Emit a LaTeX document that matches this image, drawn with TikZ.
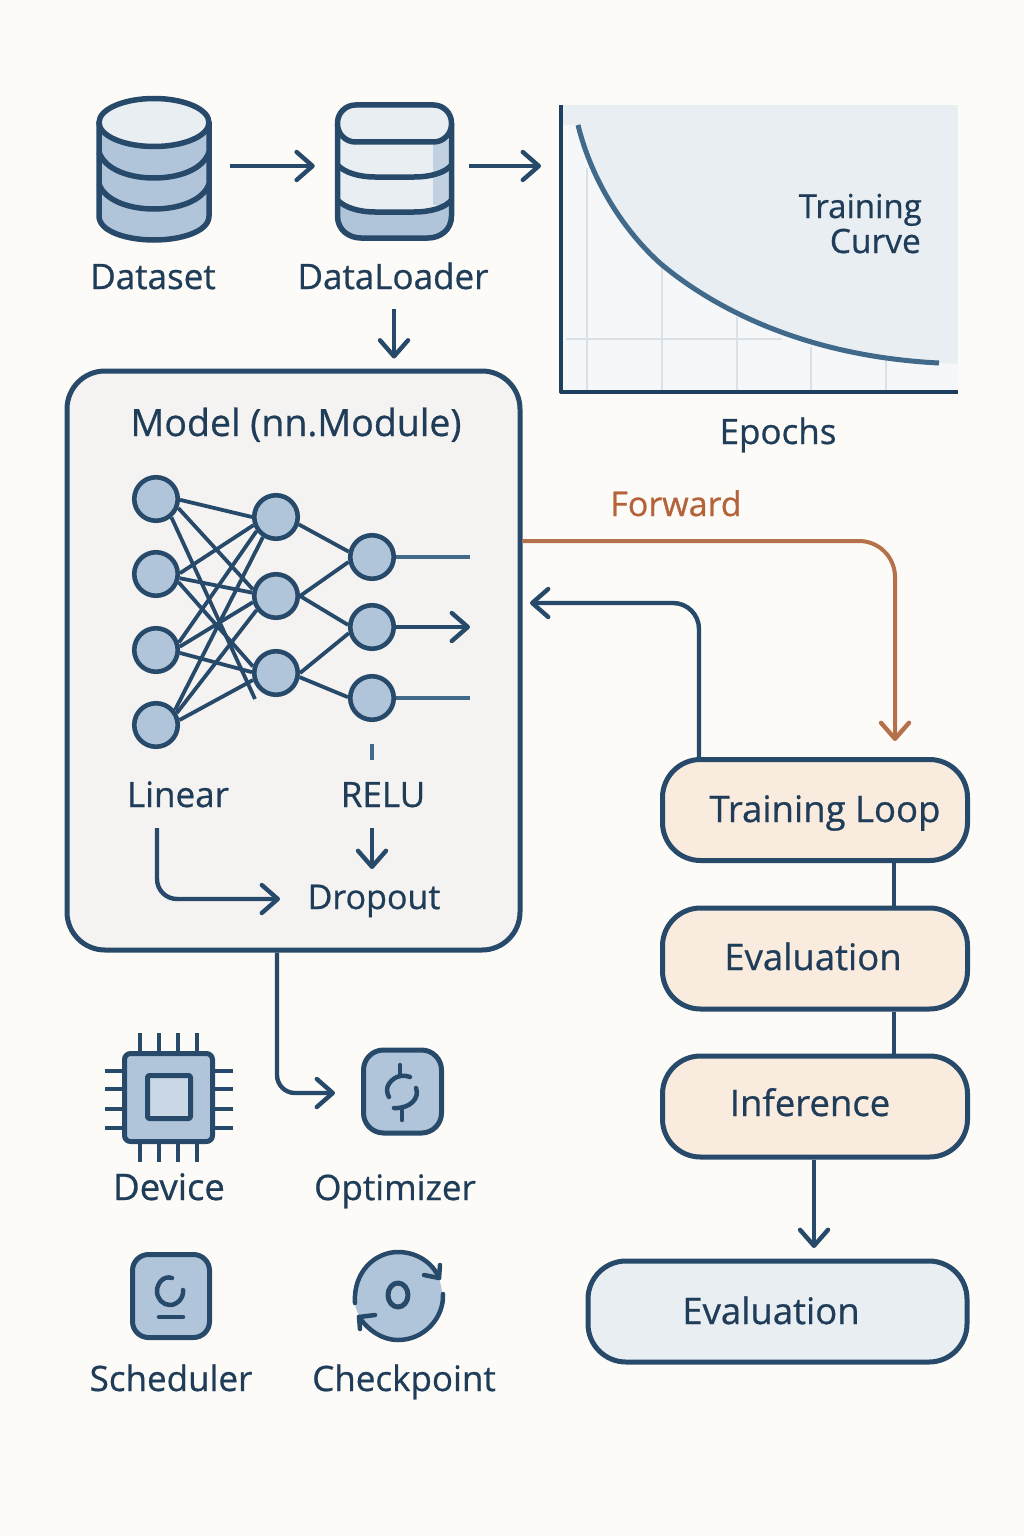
\documentclass[tikz,border=0pt]{standalone}
\usepackage{fontspec}
\setmainfont[FakeBold=0.7]{Open Sans}
\usetikzlibrary{arrows.meta}
\definecolor{bgc}{HTML}{FDFBF8}
\definecolor{navy}{HTML}{27496A}
\definecolor{axisc}{HTML}{1F3F5E}
\definecolor{inkc}{HTML}{1F3D58}
\definecolor{midblue}{HTML}{B1C5DA}
\definecolor{palec}{HTML}{E8EEF2}
\definecolor{curvec}{HTML}{41698A}
\definecolor{gridc}{HTML}{D9E2E9}
\definecolor{peach}{HTML}{FAEBDF}
\definecolor{rust}{HTML}{B5714A}
\definecolor{rusttext}{HTML}{B4623A}
\newcommand{\txtsize}[1]{\fontsize{#1}{#1}\selectfont}

\begin{document}
\begin{tikzpicture}[x=1pt,y=-1pt,
        line join=round,
        barb/.style={-{Straight Barb[length=16pt,width=28pt,line width=4.4pt,round]}},
        arr/.style={draw=navy,line width=4.4pt,barb},
        lnk/.style={draw=navy,line width=4.6pt},
        lbl/.style={text=inkc,inner sep=0pt,anchor=base,font=\txtsize{35}},
        bigl/.style={text=inkc,inner sep=0pt,anchor=base,font=\txtsize{36.5}},
        iconbox/.style={draw=navy,line width=5pt,fill=midblue,rounded corners=#1,inner sep=0pt},
        ghost/.style={inner sep=0pt,minimum width=#1,minimum height=110pt},
        stagebox/.style={draw=navy,line width=5pt,fill=peach,rounded corners=38pt,minimum width=305pt,minimum height=101pt,inner sep=0pt},
        neuron/.style={circle,draw=navy,line width=4.6pt,fill=midblue,minimum size=43.5pt,inner sep=0pt},
        edge/.style={draw=navy,line width=3.8pt},
        icl/.style={draw=navy,line width=4.5pt,line cap=round},
        shell/.style={navy,line width=5.5pt}]

    \fill[bgc] (0,0) rectangle (1024,1536);
    \useasboundingbox (0,0) rectangle (1024,1536);

    % dataset
    \fill[midblue] (99,122) -- (99,216) .. controls (99,232) and (128,240) .. (154,240) .. controls (180,240) and (209,232) .. (209,216) -- (209,122) -- cycle;
    \draw[shell] (99,122) -- (99,216) .. controls (99,232) and (128,240) .. (154,240) .. controls (180,240) and (209,232) .. (209,216) -- (209,122);
    \draw[shell] (99,152) .. controls (105,170) and (130,178) .. (154,178) .. controls (178,178) and (203,170) .. (209,152);
    \draw[shell] (99,184) .. controls (105,201) and (130,209) .. (154,209) .. controls (178,209) and (203,201) .. (209,184);
    \draw[shell,fill=palec] (154,122.5) ellipse [x radius=55pt,y radius=24pt];
    \node[ghost=114pt] (dataset) at (154,166) {};
    \node[lbl] (datasetlabel) at (153,289) {Dataset};

    % dataloader
    \fill[palec] (337.5,125) rectangle (451.5,212);
    \fill[midblue!70!palec] (433,140) rectangle (451.5,205);
    \fill[midblue] (337.5,200) .. controls (345,208) and (360,212) .. (375,212) -- (414,212) .. controls (430,212) and (445,208) .. (451.5,200) -- (451.5,218) .. controls (451.5,230) and (440,238) .. (428,238) -- (361,238) .. controls (349,238) and (337.5,230) .. (337.5,218) -- cycle;
    \draw[shell] (337.5,124) -- (337.5,216) .. controls (337.5,230) and (349,238) .. (361,238) -- (428,238) .. controls (440,238) and (451.5,230) .. (451.5,216) -- (451.5,124);
    \draw[shell] (337.5,165) .. controls (345,173) and (360,177) .. (375,177) -- (414,177) .. controls (430,177) and (445,173) .. (451.5,165);
    \draw[shell] (337.5,200) .. controls (345,208) and (360,212) .. (375,212) -- (414,212) .. controls (430,212) and (445,208) .. (451.5,200);
    \draw[shell,fill=palec,rounded corners=18pt] (337.5,105) rectangle (451.5,142);
    \node[ghost=119pt] (dataloader) at (394.5,166) {};
    \node[lbl] (dataloaderlabel) at (393,289) {DataLoader};

    \coordinate (chartin) at (541,166);
    \draw[arr,shorten <=19pt,shorten >=20pt] (dataset) -- (dataloader);
    \draw[arr,shorten <=15pt] (dataloader) -- (chartin);

    % training curve
    \fill[palec] (562,105) rectangle (958,392);
    \fill[white!55!palec] (578,125) .. controls (592,182) and (625,232) .. (661,264) .. controls (710,305) and (800,356) .. (939,363) -- (958,364) -- (958,392) -- (562,392) -- (562,125) -- cycle;
    \foreach \gx/\gy in {587/168,662/265,737/317,811/347,886/360}
        \draw[gridc,line width=2.4pt] (\gx,\gy) -- (\gx,390);
    \draw[gridc,line width=2.4pt] (566,339) -- (782,339);
    \draw[curvec,line width=5pt] (578,125) .. controls (592,182) and (625,232) .. (661,264) .. controls (710,305) and (800,356) .. (939,363);
    \draw[axisc,line width=4pt] (561,105) -- (561,392) -- (958,392);
    \node[lbl,anchor=base east,font=\txtsize{33}] (traininglabel) at (922,218) {Training};
    \node[lbl,anchor=base east,font=\txtsize{33.5}] (curvelabel) at (921,253) {Curve};
    \node[lbl] (epochslabel) at (778,444) {Epochs};

    % model
    \node[draw=navy,line width=5pt,fill=black!3!bgc,rounded corners=38pt,minimum width=453pt,minimum height=579pt,inner sep=0pt] (model) at (293.5,660.5) {};
    \node[bigl,font=\txtsize{37.5}] (modellabel) at (296,436) {Model (nn.Module)};
    \coordinate (modelin) at (394,309);
    \draw[arr,shorten >=10pt] (modelin) -- (model.north -| modelin);

    \foreach \ny [count=\ni] in {499,574,650,725}
        \node[neuron] (inputn\ni) at (156,\ny) {};
    \foreach \ny [count=\ni] in {517,596,673}
        \node[neuron] (hiddenn\ni) at (276,\ny) {};
    \foreach \ny [count=\ni] in {557,627,698}
        \node[neuron] (outputn\ni) at (372,\ny) {};

    \coordinate (stray) at (255,699);
    \draw[edge] (inputn1.-50) -- (stray);
    \foreach \fr/\fa/\tn/\ta in {1/-2/1/180,1/-22/2/164,
            2/2/1/200,2/-10/2/172,2/-20/3/164,
            3/18/1/216,3/8/2/195,3/-7/3/178,
            4/38/1/237,4/30/2/216,4/12/3/197}
        \draw[edge] (inputn\fr.\fa) -- (hiddenn\tn.\ta);
    \foreach \fr/\fa/\tn/\ta in {1/-18/1/167,2/0/1/192,2/0/2/175,3/0/2/195,3/-10/3/178}
        \draw[edge] (hiddenn\fr.\fa) -- (outputn\tn.\ta);

    \coordinate (outa) at (470,557);
    \coordinate (outb) at (470,627);
    \coordinate (outc) at (470,698);
    \draw[curvec,line width=4pt] (outputn1) -- (outa);
    \draw[arr] (outputn2) -- (outb);
    \draw[curvec,line width=4pt] (outputn3) -- (outc);
    \draw[curvec,line width=4pt] (372,744) -- (372,760);

    \node[lbl] (linearlabel) at (178,807) {Linear};
    \node[lbl] (relulabel) at (383,807) {RELU};
    \node[lbl,font=\txtsize{34}] (dropoutlabel) at (374,909) {Dropout};
    \coordinate (relustart) at (372,828);
    \coordinate (reluend) at (372,869);
    \draw[arr] (relustart) -- (reluend);
    \coordinate (linearstart) at (157,828);
    \coordinate (linearbend) at (157,899);
    \coordinate (linearend) at (280,899);
    \draw[arr,rounded corners=20pt] (linearstart) -- (linearbend) -- (linearend);

    % stages
    \node[stagebox] (trainloop) at (815,810) {};
    \node[bigl] (trainlooplabel) at (825,822) {Training Loop};
    \node[stagebox] (evalbox) at (815,958.5) {};
    \node[bigl] (evallabel) at (813,970) {Evaluation};
    \node[stagebox] (inferbox) at (815,1106.5) {};
    \node[bigl] (inferlabel) at (810,1116) {Inference};
    \node[stagebox,fill=palec,minimum width=379pt] (finalbox) at (777.5,1311.5) {};
    \node[bigl] (finallabel) at (771,1324) {Evaluation};
    \coordinate (linkx) at (894,0);
    \coordinate (infout) at (814,1248);
    \draw[lnk] (trainloop.south -| linkx) -- (evalbox.north -| linkx);
    \draw[lnk] (evalbox.south -| linkx) -- (inferbox.north -| linkx);
    \draw[arr] (inferbox.south -| infout) -- (infout);

    % forward and back
    \node[lbl,text=rusttext,font=\txtsize{34}] (forwardlabel) at (676,516) {Forward};
    \coordinate (fwbend) at (895,541);
    \coordinate (fwend) at (895,741);
    \draw[draw=rust,line width=4pt,barb,rounded corners=36pt] (model.east |- fwbend) -- (fwbend) -- (fwend);
    \coordinate (backbend) at (699,603);
    \coordinate (backend) at (530,603);
    \draw[arr,rounded corners=26pt] (trainloop.north -| backbend) -- (backbend) -- (backend);

    % model to optimizer
    \coordinate (optbend) at (277,1093);
    \coordinate (optend) at (335,1093);
    \draw[arr,rounded corners=18pt] (model.south -| optbend) -- (optbend) -- (optend);

    % device
    \foreach \px in {140,159,178,197} \draw[navy,line width=4.5pt] (\px,1033) -- (\px,1162);
    \foreach \py in {1071,1089,1109,1128} \draw[navy,line width=4.5pt] (105,\py) -- (233,\py);
    \node[iconbox=6pt,minimum width=88pt,minimum height=88pt] (device) at (168.5,1097.5) {};
    \node[draw=navy,line width=5pt,fill=midblue!55!palec,rounded corners=2pt,minimum size=43pt,inner sep=0pt] (devicecore) at (169,1097) {};
    \node[lbl,font=\txtsize{36.5}] (devicelabel) at (169,1200) {Device};

    % optimizer
    \node[iconbox=20pt,minimum width=78pt,minimum height=83pt] (optimizer) at (402.5,1091.5) {};
    \draw[icl] (410,1077) .. controls (398,1072) and (387,1082) .. (387,1090) .. controls (387,1093) and (388,1095) .. (389,1097);
    \draw[icl] (416,1088) .. controls (420,1098) and (410,1109) .. (394,1108);
    \draw[icl] (400,1065) -- (400,1074);
    \draw[icl] (402,1110) -- (402,1120);
    \node[lbl] (optimizerlabel) at (395,1200) {Optimizer};

    % scheduler
    \node[iconbox=16pt,minimum width=77pt,minimum height=83pt] (scheduler) at (171,1296) {};
    \draw[icl] (172,1278) .. controls (163,1275) and (157,1284) .. (157,1291) .. controls (157,1299) and (163,1305) .. (170,1305) .. controls (177,1305) and (184,1298) .. (183,1290);
    \draw[icl] (159,1317) -- (183,1317);
    \node[lbl] (schedulerlabel) at (171,1391) {Scheduler};

    % checkpoint
    \node[circle,fill=midblue,minimum size=88pt,inner sep=0pt] (checkpoint) at (398,1295) {};
    \draw[icl] (355,1303) .. controls (353,1272) and (375,1252) .. (398,1252) .. controls (417,1252) and (433,1263) .. (439,1278);
    \draw[icl] (443,1294) .. controls (444,1318) and (424,1340) .. (398,1340) .. controls (382,1340) and (368,1330) .. (359,1317);
    \draw[icl] (440,1265) -- (439,1278) -- (424,1275);
    \draw[icl] (360,1329) -- (359,1317) -- (375,1315);
    \draw[navy,line width=5pt] (398,1295) ellipse [x radius=10pt,y radius=12pt];
    \node[lbl] (checkpointlabel) at (404,1391) {Checkpoint};
\end{tikzpicture}
\end{document}
